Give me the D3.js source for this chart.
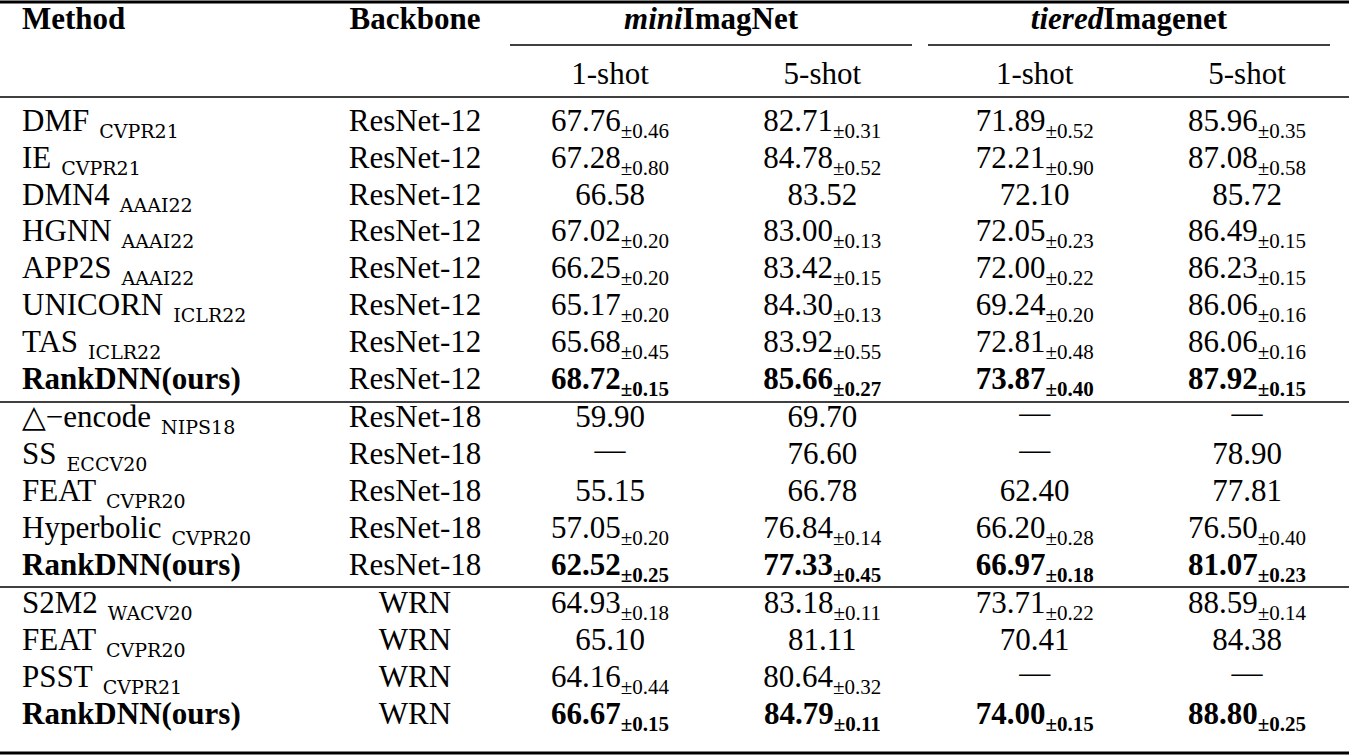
<!DOCTYPE html>
<html><head><meta charset="utf-8">
<script src="https://cdn.jsdelivr.net/npm/d3@7"></script>
<style>body{margin:0;background:#fff}</style>
</head><body>
<script>
var methods = ["DMF","IE","DMN4","HGNN","APP2S","UNICORN","TAS","RankDNN(ours)",
  "\u25B3\u2212encode","SS","FEAT","Hyperbolic","RankDNN(ours)",
  "S2M2","FEAT","PSST","RankDNN(ours)"];
var venues = ["CVPR21","CVPR21","AAAI22","AAAI22","AAAI22","ICLR22","ICLR22","",
  "NIPS18","ECCV20","CVPR20","CVPR20","",
  "WACV20","CVPR20","CVPR21",""];
var backbones = ["ResNet-12","ResNet-12","ResNet-12","ResNet-12","ResNet-12","ResNet-12","ResNet-12","ResNet-12",
  "ResNet-18","ResNet-18","ResNet-18","ResNet-18","ResNet-18",
  "WRN","WRN","WRN","WRN"];
// [value, std] per cell, null = dash
var mini1 = [["67.76","0.46"],["67.28","0.80"],["66.58",""],["67.02","0.20"],["66.25","0.20"],["65.17","0.20"],["65.68","0.45"],["68.72","0.15"],
  ["59.90",""],null,["55.15",""],["57.05","0.20"],["62.52","0.25"],
  ["64.93","0.18"],["65.10",""],["64.16","0.44"],["66.67","0.15"]];
var mini5 = [["82.71","0.31"],["84.78","0.52"],["83.52",""],["83.00","0.13"],["83.42","0.15"],["84.30","0.13"],["83.92","0.55"],["85.66","0.27"],
  ["69.70",""],["76.60",""],["66.78",""],["76.84","0.14"],["77.33","0.45"],
  ["83.18","0.11"],["81.11",""],["80.64","0.32"],["84.79","0.11"]];
var tiered1 = [["71.89","0.52"],["72.21","0.90"],["72.10",""],["72.05","0.23"],["72.00","0.22"],["69.24","0.20"],["72.81","0.48"],["73.87","0.40"],
  null,null,["62.40",""],["66.20","0.28"],["66.97","0.18"],
  ["73.71","0.22"],["70.41",""],null,["74.00","0.15"]];
var tiered5 = [["85.96","0.35"],["87.08","0.58"],["85.72",""],["86.49","0.15"],["86.23","0.15"],["86.06","0.16"],["86.06","0.16"],["87.92","0.15"],
  null,["78.90",""],["77.81",""],["76.50","0.40"],["81.07","0.23"],
  ["88.59","0.14"],["84.38",""],null,["88.80","0.25"]];
var ours = [7, 12, 16];
var groupEnds = [7, 12];

var W = 1349, H = 756;
var svg = d3.select("body").append("svg").attr("width", W).attr("height", H)
  .style("font-family", "'Liberation Serif', 'DejaVu Serif', serif");

// row centres: small gap after each group
var rowY = [];
var y = 121;
methods.forEach(function(m, i) {
  rowY.push(y);
  y += 36.8;
  if (groupEnds.indexOf(i) >= 0) y += 2;
});
var colX = d3.scalePoint().domain(["m1","m5","t1","t5"]).range([610, 1247]);

function rule(y1, x1, x2, w) {
  svg.append("line").attr("x1", x1).attr("x2", x2).attr("y1", y1).attr("y2", y1)
    .attr("stroke", "#000").attr("stroke-width", w);
}
rule(2, 0, W, 3);
rule(45, 510, 912, 1.3);
rule(45, 928, 1330, 1.3);
rule(97, 0, W, 1.5);
rule(402, 0, W, 1.5);
rule(587, 0, W, 1.5);
rule(753, 0, W, 3);

var fs = 31;
function txt(x, y, s, anchor, bold) {
  return svg.append("text").attr("x", x).attr("y", y).attr("text-anchor", anchor || "start")
    .attr("font-size", fs).attr("font-weight", bold ? "bold" : "normal").text(s);
}
txt(22, 29, "Method", "start", true);
txt(415, 29, "Backbone", "middle", true);
var h1 = txt(711, 29, "", "middle", true);
h1.append("tspan").attr("font-style", "italic").text("mini");
h1.append("tspan").text("ImagNet");
var h2 = txt(1129, 29, "", "middle", true);
h2.append("tspan").attr("font-style", "italic").text("tiered");
h2.append("tspan").text("Imagenet");
colX.domain().forEach(function(k, i) {
  txt(colX(k), 84, i % 2 ? "5-shot" : "1-shot", "middle");
});

methods.forEach(function(m, i) {
  var b = ours.indexOf(i) >= 0;
  var ty = rowY[i] + 10;
  var t = txt(22, ty, m, "start", b);
  if (venues[i]) t.append("tspan").attr("dx", 10).attr("dy", 7).attr("font-size", 19)
    .attr("font-family", "'DejaVu Serif', serif")
    .attr("font-weight", "normal").text(venues[i]);
  txt(415, ty, backbones[i], "middle");
  [["m1", mini1], ["m5", mini5], ["t1", tiered1], ["t5", tiered5]].forEach(function(c) {
    var v = c[1][i];
    if (!v) { txt(colX(c[0]), ty - 4, "\u2014", "middle"); return; }
    var e = txt(colX(c[0]), ty, v[0], "middle", b);
    if (v[1]) e.append("tspan").attr("dy", 7).attr("font-size", 21).text("\u00B1" + v[1]);
  });
});
</script>
</body></html>
